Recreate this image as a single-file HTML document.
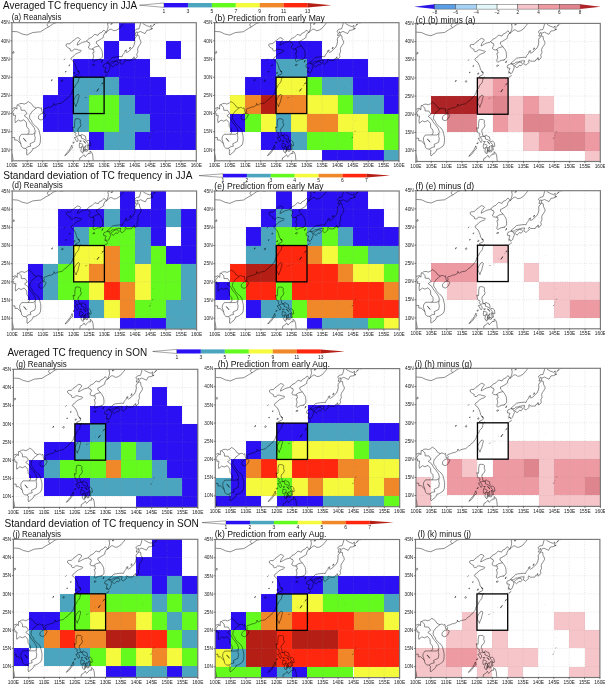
<!DOCTYPE html>
<html><head><meta charset="utf-8"><title>TC frequency</title>
<style>html,body{margin:0;padding:0;background:#fff}svg{display:block}text{font-family:"Liberation Sans",sans-serif;fill:#111}.t{font-size:11px}.s{font-size:8.2px}.k{font-size:4.8px;fill:#1a1a1a}.c{font-size:5px;fill:#222}</style></head><body>
<svg width="605" height="685" viewBox="0 0 605 685">
<rect width="605" height="685" fill="#fff"/>
<defs>
<clipPath id="cp"><rect x="0" y="0" width="184.4" height="138.1"/></clipPath>
<g id="map"><path clip-path="url(#cp)" d="M0 114.84L2.77 114.84L2.77 117.38L5.22 117.38L7.07 119.2L8.91 121.02L9.53 123.93L11.06 125.38L13.52 125.74L15.06 127.2L14.75 129.01L14.75 131.92L15.67 132.29L16.9 130.83L19.05 129.38L20.59 127.2L20.9 125.74L22.13 125.74L23.66 125.02L24.89 124.29L25.82 123.56L27.35 122.47L28.27 120.29L28.58 117.02L28.58 114.48L28.27 112.66L27.66 110.12L27.05 107.57L25.51 105.03L23.97 103.94L21.82 101.76L20.28 99.94L19.67 98.12L18.13 96.31L17.52 94.49L18.13 91.58L19.36 90.13L20.59 88.31L22.13 87.22L24.28 85.4L25.82 84.68L27.35 85.04L28.27 85.77L29.5 85.04L29.81 87.58L30.43 89.76L31.66 89.76L32.27 88.31L31.35 87.22L31.96 86.13L33.19 85.77L34.73 85.4L36.88 84.31L38.72 84.31L40.57 83.22L41.8 82.5L41.8 80.68L42.41 81.77L43.64 82.5L44.87 81.41L46.1 81.04L47.94 80.68L49.79 80.32L51.02 79.23L52.55 77.77L54.09 77.05L55.32 75.23L57.16 74.14L58.09 72.68L59.32 71.23L60.24 69.41L60.54 67.6L61.47 66.14L62.7 64.69L63.62 62.14L65.15 60.69L66.38 58.87L66.69 57.06L67.31 55.24L66.08 54.51L64.54 53.79L63 53.42L64.54 52.33L66.38 51.61L67.31 50.88L67 48.7L64.54 46.52L64.23 44.34L63.31 41.79L62.08 39.25L60.24 37.8L59.01 36.34L59.62 34.89L61.16 33.8L62.39 32.71L63.93 31.25L66.08 30.16L68.23 29.44L69.46 28.35L68.84 27.62L66.38 27.26L64.54 26.53L62.39 26.53L60.85 27.98L59.01 28.35L58.09 27.26L58.39 26.17L56.24 25.08L54.4 23.62L54.09 21.81L55.32 21.08L58.09 21.08L59.62 19.26L61.16 18.17L63.93 15.99L65.46 14.9L67.61 15.63L68.54 16.72L67 18.53L65.77 20.35L65.15 22.53L66.69 21.81L68.54 20.72L70.69 19.62L73.76 18.9L74.99 18.17L75.91 19.62L77.45 19.99L78.06 21.81L77.14 23.26L76.53 25.08L77.76 26.17L79.91 26.53L81.75 26.53L81.75 28.35L82.37 29.44L80.83 30.16L81.44 31.98L81.75 34.16L81.14 35.98L80.83 37.8L81.75 38.89L83.59 37.8L85.13 37.07L87.28 36.71L89.13 35.98L90.36 34.52L90.66 32.34L90.36 29.8L90.05 27.98L88.82 25.8L87.28 23.62L85.75 21.81L84.52 20.72L84.52 18.9L86.67 17.81L89.13 16.35L91.28 14.9L91.59 12.72L93.12 10.18L94.35 9.81L95.89 8.36L98.04 6.54L99.58 6.54L101.73 8L104.19 7.63L107.26 5.81L109.1 3.63L110.64 1.82L111.87 0M94.97 40.34L97.42 41.43L98.04 42.88L98.35 44.34L97.42 46.52L96.5 49.06L95.58 49.79L94.35 50.52L94.04 48.7L92.81 49.79L93.12 47.24L94.04 45.06L92.81 44.7L91.59 44.7L91.28 42.88L91.89 41.79L93.43 41.07L94.97 40.34M98.65 42.16L99.88 41.07L101.42 39.98L103.26 38.89L105.42 38.89L106.64 40.7L105.11 42.52L103.57 41.79L102.03 43.61L101.11 44.34L99.88 43.61L98.65 42.16M94.97 39.98L96.5 38.52L98.65 36.71L100.5 34.89L102.34 34.52L105.11 34.16L108.18 33.8L110.03 34.16L110.95 31.98L112.79 29.8L113.1 27.98L114.64 27.26L114.02 29.07L114.94 29.8L117.4 28.35L119.25 26.17L121.09 24.71L122.32 21.81L122.93 18.9L122.63 16.35L123.86 14.17L125.7 12.72L127.24 13.08L127.54 15.99L128.77 18.17L129.08 19.99L127.85 22.17L126.31 24.35L125.7 26.17L126.01 29.07L124.78 31.62L125.39 33.8L124.16 35.62L122.63 36.71L122.32 34.89L122.01 34.16L121.7 35.62L120.17 35.98L119.25 37.8L117.4 37.8L114.64 37.8L113.41 36.34L112.48 37.8L113.41 38.89L111.56 40.34L110.03 41.79L107.87 40.34L108.18 38.89L108.8 37.43L106.64 37.43L104.49 37.8L102.34 38.52L99.88 38.89L98.35 40.34L96.2 40.34L94.97 39.98M128.77 0L127.85 3.63L126.93 6.18L124.16 6.54L122.32 8.72L123.86 10.18L122.93 12.72L124.16 12.72L126.01 11.63L124.47 9.09L126.01 9.81L128.47 8.72L130.62 9.81L133.08 10.9L134.92 7.63L137.69 7.27L140.76 5.81L139.22 6.18L139.22 2.54L137.69 4L134.61 2.91L131.85 1.45L130.31 0M141.37 2.18L143.22 1.09L142.3 2.18L140.14 4M144.45 0.36L146.29 0M117.4 26.17L118.32 24.35L118.63 25.44L117.4 26.17M89.74 39.61L90.66 37.43L90.05 38.89L89.74 39.61M80.52 42.52L81.75 41.61L82.83 41.98L81.75 42.88L80.52 42.52M87.9 37.25L88.36 36.34M84.98 68.69L86.05 67.23L86.98 65.96L85.75 66.87L84.98 68.69M89.74 61.05L91.28 59.96L90.36 61.24L89.74 61.05M93.43 53.42L94.2 53.06L93.74 53.79L93.43 53.42M94.97 53.06L95.43 51.61M88.82 62.87L89.13 62.33M74.07 75.05L74.68 74.32M72.84 75.23L73.45 74.86M77.76 73.59L78.22 73.23M82.21 67.78L82.52 67.96M64.54 72.68L66.38 71.59L67.31 72.68L67 74.5L66.38 76.32L65.77 79.23L64.54 81.77L63.93 83.95L63.31 82.13L62.08 80.32L61.77 78.14L62.7 75.59L63.93 73.77L64.54 72.68M26.74 93.4L28.27 91.58L29.81 90.86L32.58 90.49L33.81 91.95L32.27 95.22L30.73 96.67L29.2 97.4L26.74 96.31L26.43 94.49L26.74 93.4M67.61 54.51L68.54 53.79L67.92 54.33M65.46 48.15L67.31 49.06L66.38 48.88L65.46 48.15M63.31 96.31L65.15 95.94L67.61 96.31L68.54 97.4L68.23 100.3L69.15 101.76L68.23 104.3L66.38 105.76L65.77 107.94L66.69 110.12L66.69 111.93L68.23 113.02L70.07 111.57L71.61 112.66L73.45 113.39L74.07 116.29L73.76 117.75L71.92 116.29L69.46 115.57L69.46 113.02L66.69 113.02L64.54 113.75L63.31 111.93L64.23 110.48L63.31 109.75L62.39 109.75L61.77 109.03L61.16 106.12L60.85 104.3L62.39 105.03L62.7 103.21L62.7 99.94L63.31 96.31M62.39 114.84L64.54 114.48L66.08 115.93L66.08 117.75L65.15 119.2L63.93 117.38L62.39 114.84M52.86 133.01L55.01 130.1L56.86 127.92L58.39 125.74L59.93 122.47L60.54 125.38L58.39 127.2L56.55 130.1L54.09 132.29L52.86 133.01M60.85 119.93L62.39 119.2L61.47 120.66L60.85 119.93M74.68 118.11L76.83 117.75L78.37 119.2L78.98 122.84L77.45 123.2L76.53 121.02L74.99 119.57L74.68 118.11M74.99 122.11L76.53 122.47L77.14 124.65L77.45 126.47L76.22 126.83L75.91 124.29L74.99 122.11M67.61 120.29L70.38 121.38L71.3 122.11L70.07 123.93L67.92 125.38L67.31 123.56L67.61 120.29M70.38 123.93L72.22 124.29L71.3 127.56L70.99 130.47L69.46 129.38L68.84 127.56L70.38 123.93M71.92 125.38L73.76 122.84L73.76 125.02L72.53 127.56L71.92 129.01L71.92 125.38M73.15 126.83L75.3 126.83L75.6 128.29L73.76 128.65L73.15 126.83M71.3 118.11L73.15 119.2L73.76 120.66L72.22 119.2L71.3 118.11M67.61 118.11L69.46 118.11L68.54 119.2L67.61 118.11M67.61 138.1L67.92 135.19L70.07 134.1L71.92 131.92L73.15 134.1L74.68 132.65L76.22 130.83L78.37 130.83L78.06 128.29L79.91 129.74L80.83 132.65L81.14 136.28L81.44 138.1M0 138.1L1.23 137.37L0.61 133.01L0 130.83M137.22 115.39L138.15 114.11M140.45 108.66L140.76 108.12M140.14 109.21L140.3 108.84M138.91 112.3L139.07 111.93M140.61 97.76L140.76 97.58M129.54 65.23L129.69 65.05M122.17 43.25L122.32 43.07M121.09 37.43L121.24 37.25M0 8.72L5.53 9.09L10.14 11.27L15.06 12.36L20.9 9.81L28.58 9.09L33.81 5.81L36.57 4.36L35.04 2.18L36.57 0M36.57 4.36L41.8 0.73L44.56 0M47.64 0L51.02 0M74.99 18.17L76.83 15.99L79.91 14.54L82.67 11.63L86.05 12.72L86.98 10.9L90.05 9.45L91.89 7.27L93.12 8.72L94.35 9.81M94.35 9.81L95.89 5.81L96.2 3.63L95.58 0.73L98.04 0M80.21 26.35L82.98 24.35L86.98 23.26M24.43 85.4L21.51 83.95L20.28 81.77L18.13 79.95L16.29 78.86L14.75 80.32L12.29 81.41L10.14 80.68L7.68 81.04L6.45 82.13M6.45 82.13L5.22 82.13L4.92 86.49L3.38 84.68L0.61 85.77L0 85.4M3.69 85.4L1.84 87.58L0.31 89.76L1.54 90.49L1.54 92.67L3.69 92.67L3.07 97.03L3.38 99.94L6.45 97.4L8.91 98.49L11.99 97.03L14.44 99.94L14.75 103.94L16.9 106.48L17.21 109.39L15.98 111.57M6.45 82.13L8.91 84.68L9.22 87.58L12.91 87.58L15.06 90.86L12.29 93.04L15.67 95.58L18.13 99.94L19.98 101.76L22.44 105.39L23.36 108.3L23.05 110.12M15.98 111.57L18.44 111.57L20.9 111.57L23.05 110.12L22.74 113.02L23.36 114.84L22.74 118.84L19.67 120.29L18.13 121.02L18.75 123.56L16.29 123.93L13.52 125.74M15.98 111.57L12.29 111.57L9.53 111.57L7.68 114.11L7.38 116.66L8.91 121.02M11.37 115.57L13.22 117.75L14.14 118.84L12.91 116.66L11.37 115.57M0 85.4L0 85.77M49.17 58.15L50.4 57.06L51.02 58.15L49.79 58.87L49.17 58.15M39.34 58.15L40.26 56.69L39.95 58.15L39.34 58.15M61.47 50.52L62.7 49.43L63 50.52L62.08 50.88L61.47 50.52M56.86 42.88L57.78 41.98L57.47 43.25L56.86 42.88M53.17 49.06L54.4 48.7L53.78 49.43L53.17 49.06M0 30.16L1.84 28.71L2.15 30.16L0.61 30.71L0 30.16M51.94 37.43L53.17 35.98M98.65 1.45L100.5 0L100.19 1.45L98.65 1.45" fill="none" stroke="#000" stroke-width="0.45" stroke-linejoin="round"/></g>
<path id="grid" d="M15.37 0V138.1M30.73 0V138.1M46.1 0V138.1M61.47 0V138.1M76.83 0V138.1M92.2 0V138.1M107.57 0V138.1M122.93 0V138.1M138.3 0V138.1M153.67 0V138.1M169.03 0V138.1M0 127.2H184.4M0 109.03H184.4M0 90.86H184.4M0 72.68H184.4M0 54.51H184.4M0 36.34H184.4M0 18.17H184.4" fill="none" stroke="#9a9a9a" stroke-opacity="0.55" stroke-width="0.5" stroke-dasharray="0.8 1.6"/>
<g id="frame"><rect x="0" y="0" width="184.4" height="138.1" fill="none" stroke="#777" stroke-width="1.15"/><path d="M0 138.1v1.6M15.37 138.1v1.6M30.73 138.1v1.6M46.1 138.1v1.6M61.47 138.1v1.6M76.83 138.1v1.6M92.2 138.1v1.6M107.57 138.1v1.6M122.93 138.1v1.6M138.3 138.1v1.6M153.67 138.1v1.6M169.03 138.1v1.6M184.4 138.1v1.6M0 127.2h-1.6M0 109.03h-1.6M0 90.86h-1.6M0 72.68h-1.6M0 54.51h-1.6M0 36.34h-1.6M0 18.17h-1.6M0 0h-1.6" stroke="#333" stroke-width="0.6" fill="none"/><rect x="61.47" y="54.51" width="30.73" height="36.34" fill="none" stroke="#000" stroke-width="1.3"/></g>
<g id="labs"><text class="k" x="0" y="144.5" text-anchor="middle">100E</text><text class="k" x="15.37" y="144.5" text-anchor="middle">105E</text><text class="k" x="30.73" y="144.5" text-anchor="middle">110E</text><text class="k" x="46.1" y="144.5" text-anchor="middle">115E</text><text class="k" x="61.47" y="144.5" text-anchor="middle">120E</text><text class="k" x="76.83" y="144.5" text-anchor="middle">125E</text><text class="k" x="92.2" y="144.5" text-anchor="middle">130E</text><text class="k" x="107.57" y="144.5" text-anchor="middle">135E</text><text class="k" x="122.93" y="144.5" text-anchor="middle">140E</text><text class="k" x="138.3" y="144.5" text-anchor="middle">145E</text><text class="k" x="153.67" y="144.5" text-anchor="middle">150E</text><text class="k" x="169.03" y="144.5" text-anchor="middle">155E</text><text class="k" x="184.4" y="144.5" text-anchor="middle">160E</text><text class="k" x="-2.2" y="128.9" text-anchor="end">10N</text><text class="k" x="-2.2" y="110.73" text-anchor="end">15N</text><text class="k" x="-2.2" y="92.56" text-anchor="end">20N</text><text class="k" x="-2.2" y="74.38" text-anchor="end">25N</text><text class="k" x="-2.2" y="56.21" text-anchor="end">30N</text><text class="k" x="-2.2" y="38.04" text-anchor="end">35N</text><text class="k" x="-2.2" y="19.87" text-anchor="end">40N</text><text class="k" x="-2.2" y="1.7" text-anchor="end">45N</text></g>
</defs>
<g transform="translate(11.9 22.7)">
<g shape-rendering="crispEdges"><rect x="107.57" y="0" width="15.37" height="18.17" fill="#2a10f2"/><rect x="92.2" y="18.17" width="15.37" height="18.17" fill="#2a10f2"/><rect x="153.67" y="18.17" width="15.37" height="18.17" fill="#2a10f2"/><rect x="61.47" y="36.34" width="76.83" height="18.17" fill="#2a10f2"/><rect x="46.1" y="54.51" width="15.37" height="18.17" fill="#2a10f2"/><rect x="61.47" y="54.51" width="46.1" height="18.17" fill="#4ba5be"/><rect x="107.57" y="54.51" width="46.1" height="18.17" fill="#2a10f2"/><rect x="30.73" y="72.68" width="30.73" height="18.17" fill="#2a10f2"/><rect x="61.47" y="72.68" width="15.37" height="18.17" fill="#4ba5be"/><rect x="76.83" y="72.68" width="30.73" height="18.17" fill="#64fa1e"/><rect x="107.57" y="72.68" width="15.37" height="18.17" fill="#4ba5be"/><rect x="122.93" y="72.68" width="61.47" height="18.17" fill="#2a10f2"/><rect x="30.73" y="90.86" width="30.73" height="18.17" fill="#2a10f2"/><rect x="61.47" y="90.86" width="15.37" height="18.17" fill="#4ba5be"/><rect x="76.83" y="90.86" width="30.73" height="18.17" fill="#64fa1e"/><rect x="107.57" y="90.86" width="30.73" height="18.17" fill="#4ba5be"/><rect x="138.3" y="90.86" width="46.1" height="18.17" fill="#2a10f2"/><rect x="76.83" y="109.03" width="15.37" height="18.17" fill="#2a10f2"/><rect x="92.2" y="109.03" width="30.73" height="18.17" fill="#4ba5be"/><rect x="122.93" y="109.03" width="61.47" height="18.17" fill="#2a10f2"/></g>
<use href="#grid"/><use href="#map"/><use href="#frame"/><use href="#labs"/>
</g>
<text class="s" x="11.7" y="19.9" textLength="49.6" lengthAdjust="spacingAndGlyphs">(a) Reanalysis</text>
<g transform="translate(214.6 22.7)">
<g shape-rendering="crispEdges"><rect x="61.47" y="18.17" width="46.1" height="18.17" fill="#2a10f2"/><rect x="46.1" y="36.34" width="15.37" height="18.17" fill="#2a10f2"/><rect x="61.47" y="36.34" width="30.73" height="18.17" fill="#4ba5be"/><rect x="92.2" y="36.34" width="61.47" height="18.17" fill="#2a10f2"/><rect x="30.73" y="54.51" width="30.73" height="18.17" fill="#2a10f2"/><rect x="61.47" y="54.51" width="30.73" height="18.17" fill="#f5fa3c"/><rect x="92.2" y="54.51" width="15.37" height="18.17" fill="#64fa1e"/><rect x="107.57" y="54.51" width="30.73" height="18.17" fill="#4ba5be"/><rect x="138.3" y="54.51" width="46.1" height="18.17" fill="#2a10f2"/><rect x="15.37" y="72.68" width="15.37" height="18.17" fill="#f5fa3c"/><rect x="30.73" y="72.68" width="15.37" height="18.17" fill="#f08728"/><rect x="46.1" y="72.68" width="15.37" height="18.17" fill="#b41e14"/><rect x="61.47" y="72.68" width="30.73" height="18.17" fill="#f08728"/><rect x="92.2" y="72.68" width="30.73" height="18.17" fill="#f5fa3c"/><rect x="122.93" y="72.68" width="15.37" height="18.17" fill="#64fa1e"/><rect x="138.3" y="72.68" width="30.73" height="18.17" fill="#4ba5be"/><rect x="169.03" y="72.68" width="15.37" height="18.17" fill="#2a10f2"/><rect x="15.37" y="90.86" width="15.37" height="18.17" fill="#2a10f2"/><rect x="30.73" y="90.86" width="15.37" height="18.17" fill="#64fa1e"/><rect x="46.1" y="90.86" width="15.37" height="18.17" fill="#f5fa3c"/><rect x="61.47" y="90.86" width="15.37" height="18.17" fill="#4ba5be"/><rect x="76.83" y="90.86" width="15.37" height="18.17" fill="#f5fa3c"/><rect x="92.2" y="90.86" width="30.73" height="18.17" fill="#f08728"/><rect x="122.93" y="90.86" width="30.73" height="18.17" fill="#f5fa3c"/><rect x="153.67" y="90.86" width="30.73" height="18.17" fill="#64fa1e"/><rect x="46.1" y="109.03" width="30.73" height="18.17" fill="#2a10f2"/><rect x="76.83" y="109.03" width="15.37" height="18.17" fill="#4ba5be"/><rect x="92.2" y="109.03" width="46.1" height="18.17" fill="#64fa1e"/><rect x="138.3" y="109.03" width="30.73" height="18.17" fill="#f5fa3c"/><rect x="169.03" y="109.03" width="15.37" height="18.17" fill="#64fa1e"/><rect x="107.57" y="127.2" width="61.47" height="10.9" fill="#2a10f2"/><rect x="169.03" y="127.2" width="15.37" height="10.9" fill="#4ba5be"/></g>
<use href="#grid"/><use href="#map"/><use href="#frame"/><use href="#labs"/>
</g>
<text class="s" x="214.7" y="20.9" textLength="110.2" lengthAdjust="spacingAndGlyphs">(b) Prediction from early May</text>
<g transform="translate(415.9 23.4)">
<g shape-rendering="crispEdges"><rect x="61.47" y="54.51" width="15.37" height="18.17" fill="#f6c5c9"/><rect x="76.83" y="54.51" width="15.37" height="18.17" fill="#ee9aa3"/><rect x="15.37" y="72.68" width="46.1" height="18.17" fill="#ad2326"/><rect x="61.47" y="72.68" width="15.37" height="18.17" fill="#ee9aa3"/><rect x="76.83" y="72.68" width="15.37" height="18.17" fill="#df858d"/><rect x="92.2" y="72.68" width="15.37" height="18.17" fill="#f6c5c9"/><rect x="107.57" y="72.68" width="15.37" height="18.17" fill="#ee9aa3"/><rect x="122.93" y="72.68" width="15.37" height="18.17" fill="#f6c5c9"/><rect x="30.73" y="90.86" width="30.73" height="18.17" fill="#df858d"/><rect x="76.83" y="90.86" width="15.37" height="18.17" fill="#ee9aa3"/><rect x="92.2" y="90.86" width="15.37" height="18.17" fill="#f6c5c9"/><rect x="107.57" y="90.86" width="30.73" height="18.17" fill="#df858d"/><rect x="138.3" y="90.86" width="30.73" height="18.17" fill="#ee9aa3"/><rect x="169.03" y="90.86" width="15.37" height="18.17" fill="#f6c5c9"/><rect x="107.57" y="109.03" width="15.37" height="18.17" fill="#f6c5c9"/><rect x="122.93" y="109.03" width="15.37" height="18.17" fill="#ee9aa3"/><rect x="138.3" y="109.03" width="30.73" height="18.17" fill="#df858d"/><rect x="169.03" y="109.03" width="15.37" height="18.17" fill="#ee9aa3"/><rect x="169.03" y="127.2" width="15.37" height="10.9" fill="#f6c5c9"/></g>
<use href="#grid"/><use href="#map"/><use href="#frame"/><use href="#labs"/>
</g>
<text class="s" x="415.8" y="22.9" textLength="59.6" lengthAdjust="spacingAndGlyphs">(c) (b) minus (a)</text>
<g transform="translate(12.2 191)">
<g shape-rendering="crispEdges"><rect x="107.57" y="0" width="15.37" height="18.17" fill="#2a10f2"/><rect x="138.3" y="0" width="15.37" height="18.17" fill="#2a10f2"/><rect x="46.1" y="18.17" width="46.1" height="18.17" fill="#2a10f2"/><rect x="92.2" y="18.17" width="15.37" height="18.17" fill="#4ba5be"/><rect x="107.57" y="18.17" width="46.1" height="18.17" fill="#2a10f2"/><rect x="153.67" y="18.17" width="15.37" height="18.17" fill="#4ba5be"/><rect x="169.03" y="18.17" width="15.37" height="18.17" fill="#2a10f2"/><rect x="46.1" y="36.34" width="15.37" height="18.17" fill="#2a10f2"/><rect x="61.47" y="36.34" width="15.37" height="18.17" fill="#4ba5be"/><rect x="76.83" y="36.34" width="46.1" height="18.17" fill="#64fa1e"/><rect x="122.93" y="36.34" width="15.37" height="18.17" fill="#4ba5be"/><rect x="138.3" y="36.34" width="15.37" height="18.17" fill="#2a10f2"/><rect x="169.03" y="36.34" width="15.37" height="18.17" fill="#2a10f2"/><rect x="46.1" y="54.51" width="15.37" height="18.17" fill="#4ba5be"/><rect x="61.47" y="54.51" width="30.73" height="18.17" fill="#f5fa3c"/><rect x="92.2" y="54.51" width="15.37" height="18.17" fill="#f08728"/><rect x="107.57" y="54.51" width="15.37" height="18.17" fill="#64fa1e"/><rect x="122.93" y="54.51" width="15.37" height="18.17" fill="#4ba5be"/><rect x="138.3" y="54.51" width="15.37" height="18.17" fill="#64fa1e"/><rect x="153.67" y="54.51" width="30.73" height="18.17" fill="#2a10f2"/><rect x="15.37" y="72.68" width="15.37" height="18.17" fill="#2a10f2"/><rect x="30.73" y="72.68" width="15.37" height="18.17" fill="#4ba5be"/><rect x="46.1" y="72.68" width="15.37" height="18.17" fill="#64fa1e"/><rect x="61.47" y="72.68" width="15.37" height="18.17" fill="#f5fa3c"/><rect x="76.83" y="72.68" width="30.73" height="18.17" fill="#f08728"/><rect x="107.57" y="72.68" width="15.37" height="18.17" fill="#64fa1e"/><rect x="122.93" y="72.68" width="15.37" height="18.17" fill="#f5fa3c"/><rect x="138.3" y="72.68" width="30.73" height="18.17" fill="#64fa1e"/><rect x="169.03" y="72.68" width="15.37" height="18.17" fill="#4ba5be"/><rect x="15.37" y="90.86" width="15.37" height="18.17" fill="#2a10f2"/><rect x="30.73" y="90.86" width="15.37" height="18.17" fill="#4ba5be"/><rect x="46.1" y="90.86" width="30.73" height="18.17" fill="#64fa1e"/><rect x="76.83" y="90.86" width="15.37" height="18.17" fill="#f5fa3c"/><rect x="92.2" y="90.86" width="15.37" height="18.17" fill="#ff280f"/><rect x="107.57" y="90.86" width="15.37" height="18.17" fill="#f08728"/><rect x="122.93" y="90.86" width="15.37" height="18.17" fill="#f5fa3c"/><rect x="138.3" y="90.86" width="30.73" height="18.17" fill="#64fa1e"/><rect x="169.03" y="90.86" width="15.37" height="18.17" fill="#4ba5be"/><rect x="61.47" y="109.03" width="15.37" height="18.17" fill="#2a10f2"/><rect x="76.83" y="109.03" width="15.37" height="18.17" fill="#4ba5be"/><rect x="92.2" y="109.03" width="15.37" height="18.17" fill="#f5fa3c"/><rect x="107.57" y="109.03" width="15.37" height="18.17" fill="#f08728"/><rect x="122.93" y="109.03" width="30.73" height="18.17" fill="#64fa1e"/><rect x="153.67" y="109.03" width="30.73" height="18.17" fill="#4ba5be"/><rect x="107.57" y="127.2" width="46.1" height="10.9" fill="#2a10f2"/><rect x="153.67" y="127.2" width="30.73" height="10.9" fill="#4ba5be"/></g>
<use href="#grid"/><use href="#map"/><use href="#frame"/><use href="#labs"/>
</g>
<text class="s" x="11.9" y="188.3" textLength="50.9" lengthAdjust="spacingAndGlyphs">(d) Reanalysis</text>
<g transform="translate(214.8 191)">
<g shape-rendering="crispEdges"><rect x="61.47" y="0" width="15.37" height="18.17" fill="#2a10f2"/><rect x="92.2" y="0" width="61.47" height="18.17" fill="#2a10f2"/><rect x="46.1" y="18.17" width="15.37" height="18.17" fill="#2a10f2"/><rect x="61.47" y="18.17" width="15.37" height="18.17" fill="#4ba5be"/><rect x="76.83" y="18.17" width="92.2" height="18.17" fill="#2a10f2"/><rect x="30.73" y="36.34" width="15.37" height="18.17" fill="#2a10f2"/><rect x="46.1" y="36.34" width="15.37" height="18.17" fill="#4ba5be"/><rect x="61.47" y="36.34" width="30.73" height="18.17" fill="#64fa1e"/><rect x="92.2" y="36.34" width="15.37" height="18.17" fill="#4ba5be"/><rect x="107.57" y="36.34" width="15.37" height="18.17" fill="#64fa1e"/><rect x="122.93" y="36.34" width="15.37" height="18.17" fill="#4ba5be"/><rect x="138.3" y="36.34" width="46.1" height="18.17" fill="#2a10f2"/><rect x="30.73" y="54.51" width="30.73" height="18.17" fill="#4ba5be"/><rect x="61.47" y="54.51" width="30.73" height="18.17" fill="#ff280f"/><rect x="92.2" y="54.51" width="15.37" height="18.17" fill="#f08728"/><rect x="107.57" y="54.51" width="15.37" height="18.17" fill="#f5fa3c"/><rect x="122.93" y="54.51" width="30.73" height="18.17" fill="#64fa1e"/><rect x="153.67" y="54.51" width="30.73" height="18.17" fill="#4ba5be"/><rect x="15.37" y="72.68" width="15.37" height="18.17" fill="#ff280f"/><rect x="30.73" y="72.68" width="30.73" height="18.17" fill="#b41e14"/><rect x="61.47" y="72.68" width="61.47" height="18.17" fill="#ff280f"/><rect x="122.93" y="72.68" width="15.37" height="18.17" fill="#f08728"/><rect x="138.3" y="72.68" width="30.73" height="18.17" fill="#f5fa3c"/><rect x="169.03" y="72.68" width="15.37" height="18.17" fill="#64fa1e"/><rect x="0" y="90.86" width="15.37" height="18.17" fill="#2a10f2"/><rect x="15.37" y="90.86" width="15.37" height="18.17" fill="#64fa1e"/><rect x="30.73" y="90.86" width="30.73" height="18.17" fill="#ff280f"/><rect x="61.47" y="90.86" width="15.37" height="18.17" fill="#64fa1e"/><rect x="76.83" y="90.86" width="92.2" height="18.17" fill="#ff280f"/><rect x="169.03" y="90.86" width="15.37" height="18.17" fill="#f08728"/><rect x="30.73" y="109.03" width="15.37" height="18.17" fill="#2a10f2"/><rect x="46.1" y="109.03" width="30.73" height="18.17" fill="#4ba5be"/><rect x="76.83" y="109.03" width="15.37" height="18.17" fill="#64fa1e"/><rect x="92.2" y="109.03" width="46.1" height="18.17" fill="#f08728"/><rect x="138.3" y="109.03" width="46.1" height="18.17" fill="#ff280f"/><rect x="92.2" y="127.2" width="15.37" height="10.9" fill="#2a10f2"/><rect x="107.57" y="127.2" width="46.1" height="10.9" fill="#4ba5be"/><rect x="153.67" y="127.2" width="15.37" height="10.9" fill="#64fa1e"/><rect x="169.03" y="127.2" width="15.37" height="10.9" fill="#f5fa3c"/></g>
<use href="#grid"/><use href="#map"/><use href="#frame"/><use href="#labs"/>
</g>
<text class="s" x="214.3" y="189.1" textLength="109.2" lengthAdjust="spacingAndGlyphs">(e) Prediction from early May</text>
<g transform="translate(416 190.7)">
<g shape-rendering="crispEdges"><rect x="76.83" y="54.51" width="15.37" height="18.17" fill="#f6c5c9"/><rect x="15.37" y="72.68" width="46.1" height="18.17" fill="#ee9aa3"/><rect x="107.57" y="72.68" width="15.37" height="18.17" fill="#f6c5c9"/><rect x="30.73" y="90.86" width="30.73" height="18.17" fill="#f6c5c9"/><rect x="122.93" y="90.86" width="61.47" height="18.17" fill="#f6c5c9"/><rect x="138.3" y="109.03" width="15.37" height="18.17" fill="#f6c5c9"/><rect x="153.67" y="109.03" width="30.73" height="18.17" fill="#ee9aa3"/></g>
<use href="#grid"/><use href="#map"/><use href="#frame"/><use href="#labs"/>
</g>
<text class="s" x="415.4" y="189.2" textLength="58.6" lengthAdjust="spacingAndGlyphs">(f) (e) minus (d)</text>
<g transform="translate(13.4 369.3)">
<g shape-rendering="crispEdges"><rect x="138.3" y="18.17" width="15.37" height="18.17" fill="#2a10f2"/><rect x="76.83" y="36.34" width="92.2" height="18.17" fill="#2a10f2"/><rect x="61.47" y="54.51" width="15.37" height="18.17" fill="#2a10f2"/><rect x="76.83" y="54.51" width="15.37" height="18.17" fill="#4ba5be"/><rect x="92.2" y="54.51" width="92.2" height="18.17" fill="#2a10f2"/><rect x="30.73" y="72.68" width="30.73" height="18.17" fill="#2a10f2"/><rect x="61.47" y="72.68" width="15.37" height="18.17" fill="#4ba5be"/><rect x="76.83" y="72.68" width="15.37" height="18.17" fill="#64fa1e"/><rect x="92.2" y="72.68" width="15.37" height="18.17" fill="#4ba5be"/><rect x="107.57" y="72.68" width="15.37" height="18.17" fill="#64fa1e"/><rect x="122.93" y="72.68" width="15.37" height="18.17" fill="#4ba5be"/><rect x="138.3" y="72.68" width="46.1" height="18.17" fill="#2a10f2"/><rect x="15.37" y="90.86" width="15.37" height="18.17" fill="#2a10f2"/><rect x="30.73" y="90.86" width="15.37" height="18.17" fill="#4ba5be"/><rect x="46.1" y="90.86" width="46.1" height="18.17" fill="#64fa1e"/><rect x="92.2" y="90.86" width="15.37" height="18.17" fill="#f08728"/><rect x="107.57" y="90.86" width="30.73" height="18.17" fill="#64fa1e"/><rect x="138.3" y="90.86" width="15.37" height="18.17" fill="#4ba5be"/><rect x="153.67" y="90.86" width="30.73" height="18.17" fill="#2a10f2"/><rect x="30.73" y="109.03" width="46.1" height="18.17" fill="#2a10f2"/><rect x="76.83" y="109.03" width="92.2" height="18.17" fill="#4ba5be"/><rect x="169.03" y="109.03" width="15.37" height="18.17" fill="#2a10f2"/><rect x="122.93" y="127.2" width="61.47" height="10.9" fill="#2a10f2"/></g>
<use href="#grid"/><use href="#map"/><use href="#frame"/><use href="#labs"/>
</g>
<text class="s" x="15.9" y="366.8" textLength="50.9" lengthAdjust="spacingAndGlyphs">(g) Reanalysis</text>
<g transform="translate(215.3 368.6)">
<g shape-rendering="crispEdges"><rect x="92.2" y="36.34" width="61.47" height="18.17" fill="#2a10f2"/><rect x="61.47" y="54.51" width="30.73" height="18.17" fill="#2a10f2"/><rect x="92.2" y="54.51" width="61.47" height="18.17" fill="#4ba5be"/><rect x="153.67" y="54.51" width="30.73" height="18.17" fill="#2a10f2"/><rect x="30.73" y="72.68" width="15.37" height="18.17" fill="#2a10f2"/><rect x="46.1" y="72.68" width="15.37" height="18.17" fill="#4ba5be"/><rect x="61.47" y="72.68" width="15.37" height="18.17" fill="#64fa1e"/><rect x="76.83" y="72.68" width="61.47" height="18.17" fill="#f5fa3c"/><rect x="138.3" y="72.68" width="15.37" height="18.17" fill="#64fa1e"/><rect x="153.67" y="72.68" width="30.73" height="18.17" fill="#4ba5be"/><rect x="15.37" y="90.86" width="15.37" height="18.17" fill="#2a10f2"/><rect x="30.73" y="90.86" width="15.37" height="18.17" fill="#f08728"/><rect x="46.1" y="90.86" width="15.37" height="18.17" fill="#ff280f"/><rect x="61.47" y="90.86" width="15.37" height="18.17" fill="#f5fa3c"/><rect x="76.83" y="90.86" width="46.1" height="18.17" fill="#ff280f"/><rect x="122.93" y="90.86" width="30.73" height="18.17" fill="#f08728"/><rect x="153.67" y="90.86" width="30.73" height="18.17" fill="#f5fa3c"/><rect x="0" y="109.03" width="15.37" height="18.17" fill="#4ba5be"/><rect x="15.37" y="109.03" width="15.37" height="18.17" fill="#2a10f2"/><rect x="30.73" y="109.03" width="30.73" height="18.17" fill="#f5fa3c"/><rect x="61.47" y="109.03" width="15.37" height="18.17" fill="#64fa1e"/><rect x="76.83" y="109.03" width="15.37" height="18.17" fill="#f5fa3c"/><rect x="92.2" y="109.03" width="15.37" height="18.17" fill="#f08728"/><rect x="107.57" y="109.03" width="30.73" height="18.17" fill="#f5fa3c"/><rect x="138.3" y="109.03" width="15.37" height="18.17" fill="#f08728"/><rect x="153.67" y="109.03" width="15.37" height="18.17" fill="#f5fa3c"/><rect x="169.03" y="109.03" width="15.37" height="18.17" fill="#f08728"/><rect x="0" y="127.2" width="46.1" height="10.9" fill="#2a10f2"/><rect x="61.47" y="127.2" width="46.1" height="10.9" fill="#2a10f2"/><rect x="107.57" y="127.2" width="61.47" height="10.9" fill="#4ba5be"/><rect x="169.03" y="127.2" width="15.37" height="10.9" fill="#64fa1e"/></g>
<use href="#grid"/><use href="#map"/><use href="#frame"/><use href="#labs"/>
</g>
<text class="s" x="217.7" y="366.8" textLength="112.3" lengthAdjust="spacingAndGlyphs">(h) Prediction from early Aug.</text>
<g transform="translate(416 368.3)">
<g shape-rendering="crispEdges"><rect x="92.2" y="72.68" width="92.2" height="18.17" fill="#f6c5c9"/><rect x="30.73" y="90.86" width="15.37" height="18.17" fill="#ee9aa3"/><rect x="46.1" y="90.86" width="15.37" height="18.17" fill="#f6c5c9"/><rect x="76.83" y="90.86" width="30.73" height="18.17" fill="#ee9aa3"/><rect x="107.57" y="90.86" width="15.37" height="18.17" fill="#df858d"/><rect x="122.93" y="90.86" width="15.37" height="18.17" fill="#f6c5c9"/><rect x="138.3" y="90.86" width="46.1" height="18.17" fill="#ee9aa3"/><rect x="0" y="109.03" width="15.37" height="18.17" fill="#f6c5c9"/><rect x="30.73" y="109.03" width="92.2" height="18.17" fill="#ee9aa3"/><rect x="122.93" y="109.03" width="15.37" height="18.17" fill="#f6c5c9"/><rect x="138.3" y="109.03" width="30.73" height="18.17" fill="#ee9aa3"/><rect x="169.03" y="109.03" width="15.37" height="18.17" fill="#df858d"/><rect x="0" y="127.2" width="15.37" height="10.9" fill="#f6c5c9"/><rect x="122.93" y="127.2" width="61.47" height="10.9" fill="#f6c5c9"/></g>
<use href="#grid"/><use href="#map"/><use href="#frame"/><use href="#labs"/>
</g>
<text class="s" x="414.7" y="366.7" textLength="57.4" lengthAdjust="spacingAndGlyphs">(i) (h) minus (g)</text>
<g transform="translate(13.4 539.3)">
<g shape-rendering="crispEdges"><rect x="138.3" y="0" width="30.73" height="18.17" fill="#2a10f2"/><rect x="122.93" y="18.17" width="46.1" height="18.17" fill="#2a10f2"/><rect x="61.47" y="36.34" width="15.37" height="18.17" fill="#2a10f2"/><rect x="76.83" y="36.34" width="61.47" height="18.17" fill="#4ba5be"/><rect x="138.3" y="36.34" width="15.37" height="18.17" fill="#2a10f2"/><rect x="153.67" y="36.34" width="15.37" height="18.17" fill="#4ba5be"/><rect x="169.03" y="36.34" width="15.37" height="18.17" fill="#2a10f2"/><rect x="46.1" y="54.51" width="15.37" height="18.17" fill="#4ba5be"/><rect x="61.47" y="54.51" width="15.37" height="18.17" fill="#64fa1e"/><rect x="76.83" y="54.51" width="15.37" height="18.17" fill="#f08728"/><rect x="92.2" y="54.51" width="46.1" height="18.17" fill="#64fa1e"/><rect x="138.3" y="54.51" width="15.37" height="18.17" fill="#4ba5be"/><rect x="153.67" y="54.51" width="15.37" height="18.17" fill="#64fa1e"/><rect x="169.03" y="54.51" width="15.37" height="18.17" fill="#4ba5be"/><rect x="15.37" y="72.68" width="30.73" height="18.17" fill="#2a10f2"/><rect x="46.1" y="72.68" width="30.73" height="18.17" fill="#64fa1e"/><rect x="76.83" y="72.68" width="15.37" height="18.17" fill="#f5fa3c"/><rect x="92.2" y="72.68" width="30.73" height="18.17" fill="#f08728"/><rect x="122.93" y="72.68" width="15.37" height="18.17" fill="#f5fa3c"/><rect x="138.3" y="72.68" width="15.37" height="18.17" fill="#64fa1e"/><rect x="153.67" y="72.68" width="15.37" height="18.17" fill="#4ba5be"/><rect x="169.03" y="72.68" width="15.37" height="18.17" fill="#64fa1e"/><rect x="15.37" y="90.86" width="15.37" height="18.17" fill="#4ba5be"/><rect x="30.73" y="90.86" width="15.37" height="18.17" fill="#f08728"/><rect x="46.1" y="90.86" width="15.37" height="18.17" fill="#ff280f"/><rect x="61.47" y="90.86" width="30.73" height="18.17" fill="#f08728"/><rect x="92.2" y="90.86" width="30.73" height="18.17" fill="#b41e14"/><rect x="122.93" y="90.86" width="30.73" height="18.17" fill="#ff280f"/><rect x="153.67" y="90.86" width="15.37" height="18.17" fill="#64fa1e"/><rect x="169.03" y="90.86" width="15.37" height="18.17" fill="#4ba5be"/><rect x="0" y="109.03" width="15.37" height="18.17" fill="#2a10f2"/><rect x="30.73" y="109.03" width="46.1" height="18.17" fill="#4ba5be"/><rect x="76.83" y="109.03" width="15.37" height="18.17" fill="#64fa1e"/><rect x="92.2" y="109.03" width="15.37" height="18.17" fill="#f5fa3c"/><rect x="107.57" y="109.03" width="15.37" height="18.17" fill="#64fa1e"/><rect x="122.93" y="109.03" width="15.37" height="18.17" fill="#f5fa3c"/><rect x="138.3" y="109.03" width="15.37" height="18.17" fill="#f08728"/><rect x="153.67" y="109.03" width="15.37" height="18.17" fill="#f5fa3c"/><rect x="169.03" y="109.03" width="15.37" height="18.17" fill="#64fa1e"/><rect x="92.2" y="127.2" width="30.73" height="10.9" fill="#2a10f2"/><rect x="122.93" y="127.2" width="30.73" height="10.9" fill="#4ba5be"/><rect x="153.67" y="127.2" width="15.37" height="10.9" fill="#2a10f2"/><rect x="169.03" y="127.2" width="15.37" height="10.9" fill="#4ba5be"/></g>
<use href="#grid"/><use href="#map"/><use href="#frame"/><use href="#labs"/>
</g>
<text class="s" x="12.8" y="536.7" textLength="48.3" lengthAdjust="spacingAndGlyphs">(j) Reanalysis</text>
<g transform="translate(215.2 539.5)">
<g shape-rendering="crispEdges"><rect x="61.47" y="36.34" width="46.1" height="18.17" fill="#2a10f2"/><rect x="107.57" y="36.34" width="15.37" height="18.17" fill="#4ba5be"/><rect x="122.93" y="36.34" width="61.47" height="18.17" fill="#2a10f2"/><rect x="46.1" y="54.51" width="15.37" height="18.17" fill="#2a10f2"/><rect x="61.47" y="54.51" width="15.37" height="18.17" fill="#4ba5be"/><rect x="76.83" y="54.51" width="30.73" height="18.17" fill="#f5fa3c"/><rect x="107.57" y="54.51" width="61.47" height="18.17" fill="#64fa1e"/><rect x="169.03" y="54.51" width="15.37" height="18.17" fill="#4ba5be"/><rect x="15.37" y="72.68" width="15.37" height="18.17" fill="#2a10f2"/><rect x="30.73" y="72.68" width="15.37" height="18.17" fill="#64fa1e"/><rect x="46.1" y="72.68" width="30.73" height="18.17" fill="#f08728"/><rect x="76.83" y="72.68" width="61.47" height="18.17" fill="#ff280f"/><rect x="138.3" y="72.68" width="30.73" height="18.17" fill="#f08728"/><rect x="169.03" y="72.68" width="15.37" height="18.17" fill="#f5fa3c"/><rect x="0" y="90.86" width="15.37" height="18.17" fill="#2a10f2"/><rect x="15.37" y="90.86" width="15.37" height="18.17" fill="#64fa1e"/><rect x="30.73" y="90.86" width="30.73" height="18.17" fill="#b41e14"/><rect x="61.47" y="90.86" width="15.37" height="18.17" fill="#ff280f"/><rect x="76.83" y="90.86" width="46.1" height="18.17" fill="#b41e14"/><rect x="122.93" y="90.86" width="61.47" height="18.17" fill="#ff280f"/><rect x="0" y="109.03" width="15.37" height="18.17" fill="#f5fa3c"/><rect x="15.37" y="109.03" width="15.37" height="18.17" fill="#4ba5be"/><rect x="30.73" y="109.03" width="30.73" height="18.17" fill="#b41e14"/><rect x="61.47" y="109.03" width="61.47" height="18.17" fill="#ff280f"/><rect x="122.93" y="109.03" width="15.37" height="18.17" fill="#f08728"/><rect x="138.3" y="109.03" width="46.1" height="18.17" fill="#ff280f"/><rect x="0" y="127.2" width="46.1" height="10.9" fill="#64fa1e"/><rect x="46.1" y="127.2" width="15.37" height="10.9" fill="#2a10f2"/><rect x="61.47" y="127.2" width="15.37" height="10.9" fill="#4ba5be"/><rect x="76.83" y="127.2" width="15.37" height="10.9" fill="#2a10f2"/><rect x="92.2" y="127.2" width="46.1" height="10.9" fill="#64fa1e"/><rect x="138.3" y="127.2" width="46.1" height="10.9" fill="#f5fa3c"/></g>
<use href="#grid"/><use href="#map"/><use href="#frame"/><use href="#labs"/>
</g>
<text class="s" x="214.7" y="537" textLength="111.8" lengthAdjust="spacingAndGlyphs">(k) Prediction from early Aug.</text>
<g transform="translate(415.5 539.4)">
<g shape-rendering="crispEdges"><rect x="46.1" y="72.68" width="15.37" height="18.17" fill="#f6c5c9"/><rect x="138.3" y="72.68" width="30.73" height="18.17" fill="#f6c5c9"/><rect x="30.73" y="90.86" width="30.73" height="18.17" fill="#f6c5c9"/><rect x="76.83" y="90.86" width="15.37" height="18.17" fill="#f6c5c9"/><rect x="153.67" y="90.86" width="30.73" height="18.17" fill="#f6c5c9"/><rect x="0" y="109.03" width="30.73" height="18.17" fill="#f6c5c9"/><rect x="30.73" y="109.03" width="30.73" height="18.17" fill="#ee9aa3"/><rect x="61.47" y="109.03" width="61.47" height="18.17" fill="#f6c5c9"/><rect x="169.03" y="109.03" width="15.37" height="18.17" fill="#f6c5c9"/><rect x="0" y="127.2" width="46.1" height="10.9" fill="#f6c5c9"/><rect x="61.47" y="127.2" width="15.37" height="10.9" fill="#f6c5c9"/><rect x="92.2" y="127.2" width="15.37" height="10.9" fill="#f6c5c9"/><rect x="153.67" y="127.2" width="30.73" height="10.9" fill="#f6c5c9"/></g>
<use href="#grid"/><use href="#map"/><use href="#frame"/><use href="#labs"/>
</g>
<text class="s" x="417.7" y="536.8" textLength="53.3" lengthAdjust="spacingAndGlyphs">(l) (k) minus (j)</text>
<text class="t" x="3" y="9.2" textLength="134.2" lengthAdjust="spacingAndGlyphs">Averaged TC frequency in JJA</text>
<text class="t" x="3.3" y="178.7" textLength="189.1" lengthAdjust="spacingAndGlyphs">Standard deviation of TC frequency in JJA</text>
<text class="t" x="7.4" y="355.6" textLength="139.7" lengthAdjust="spacingAndGlyphs">Averaged TC frequency in SON</text>
<text class="t" x="4.5" y="527.3" textLength="194.4" lengthAdjust="spacingAndGlyphs">Standard deviation of TC frequency in SON</text>
<path d="M139.5 5.2L164 3L164 7.4Z" fill="#fff" stroke="#222" stroke-width="0.4"/><rect x="164" y="3" width="23.98" height="4.4" fill="#2a10f2"/><rect x="187.93" y="3" width="23.98" height="4.4" fill="#4ba5be"/><rect x="211.86" y="3" width="23.98" height="4.4" fill="#64fa1e"/><rect x="235.79" y="3" width="23.98" height="4.4" fill="#f5fa3c"/><rect x="259.72" y="3" width="23.98" height="4.4" fill="#f08728"/><rect x="283.65" y="3" width="23.98" height="4.4" fill="#ff280f"/><path d="M307.58 3L331.51 5.2L307.58 7.4Z" fill="#b41e14"/><text class="c" x="164" y="13" text-anchor="middle">1</text><text class="c" x="187.93" y="13" text-anchor="middle">3</text><text class="c" x="211.86" y="13" text-anchor="middle">5</text><text class="c" x="235.79" y="13" text-anchor="middle">7</text><text class="c" x="259.72" y="13" text-anchor="middle">9</text><text class="c" x="283.65" y="13" text-anchor="middle">11</text><text class="c" x="307.58" y="13" text-anchor="middle">13</text>
<path d="M199 175.6L223 173.8L223 177.4Z" fill="#fff" stroke="#222" stroke-width="0.4"/><rect x="223" y="173.8" width="23.95" height="3.6" fill="#2a10f2"/><rect x="246.9" y="173.8" width="23.95" height="3.6" fill="#4ba5be"/><rect x="270.8" y="173.8" width="23.95" height="3.6" fill="#64fa1e"/><rect x="294.7" y="173.8" width="23.95" height="3.6" fill="#f5fa3c"/><rect x="318.6" y="173.8" width="23.95" height="3.6" fill="#f08728"/><rect x="342.5" y="173.8" width="23.95" height="3.6" fill="#ff280f"/><path d="M366.4 173.8L390.3 175.6L366.4 177.4Z" fill="#b41e14"/><text class="c" x="223" y="182.4" text-anchor="middle">1</text><text class="c" x="246.9" y="182.4" text-anchor="middle">2</text><text class="c" x="270.8" y="182.4" text-anchor="middle">3</text><text class="c" x="294.7" y="182.4" text-anchor="middle">4</text><text class="c" x="318.6" y="182.4" text-anchor="middle">5</text><text class="c" x="342.5" y="182.4" text-anchor="middle">6</text><text class="c" x="366.4" y="182.4" text-anchor="middle">7</text>
<path d="M152.7 351.45L176.8 349.4L176.8 353.5Z" fill="#fff" stroke="#222" stroke-width="0.4"/><rect x="176.8" y="349.4" width="24.05" height="4.1" fill="#2a10f2"/><rect x="200.8" y="349.4" width="24.05" height="4.1" fill="#4ba5be"/><rect x="224.8" y="349.4" width="24.05" height="4.1" fill="#64fa1e"/><rect x="248.8" y="349.4" width="24.05" height="4.1" fill="#f5fa3c"/><rect x="272.8" y="349.4" width="24.05" height="4.1" fill="#f08728"/><rect x="296.8" y="349.4" width="24.05" height="4.1" fill="#ff280f"/><path d="M320.8 349.4L344.8 351.45L320.8 353.5Z" fill="#b41e14"/><text class="c" x="176.8" y="359.2" text-anchor="middle">1</text><text class="c" x="200.8" y="359.2" text-anchor="middle">3</text><text class="c" x="224.8" y="359.2" text-anchor="middle">5</text><text class="c" x="248.8" y="359.2" text-anchor="middle">7</text><text class="c" x="272.8" y="359.2" text-anchor="middle">9</text><text class="c" x="296.8" y="359.2" text-anchor="middle">11</text><text class="c" x="320.8" y="359.2" text-anchor="middle">13</text>
<path d="M202.2 522.55L226 520.8L226 524.3Z" fill="#fff" stroke="#222" stroke-width="0.4"/><rect x="226" y="520.8" width="24" height="3.5" fill="#2a10f2"/><rect x="249.95" y="520.8" width="24" height="3.5" fill="#4ba5be"/><rect x="273.9" y="520.8" width="24" height="3.5" fill="#64fa1e"/><rect x="297.85" y="520.8" width="24" height="3.5" fill="#f5fa3c"/><rect x="321.8" y="520.8" width="24" height="3.5" fill="#f08728"/><rect x="345.75" y="520.8" width="24" height="3.5" fill="#ff280f"/><path d="M369.7 520.8L393.65 522.55L369.7 524.3Z" fill="#b41e14"/><text class="c" x="226" y="529.2" text-anchor="middle">1</text><text class="c" x="249.95" y="529.2" text-anchor="middle">2</text><text class="c" x="273.9" y="529.2" text-anchor="middle">3</text><text class="c" x="297.85" y="529.2" text-anchor="middle">4</text><text class="c" x="321.8" y="529.2" text-anchor="middle">5</text><text class="c" x="345.75" y="529.2" text-anchor="middle">6</text><text class="c" x="369.7" y="529.2" text-anchor="middle">7</text>
<path d="M414.1 6.65L434.75 4.2L434.75 9.1Z" fill="#2a14e6"/><rect x="434.75" y="4.2" width="20.77" height="4.9" fill="#5c9ee6" stroke="#333" stroke-width="0.4"/><rect x="455.52" y="4.2" width="20.77" height="4.9" fill="#a5d2f5" stroke="#333" stroke-width="0.4"/><rect x="476.29" y="4.2" width="20.77" height="4.9" fill="#e3f7fa" stroke="#333" stroke-width="0.4"/><rect x="497.06" y="4.2" width="20.77" height="4.9" fill="#ffffff" stroke="#333" stroke-width="0.4"/><rect x="517.83" y="4.2" width="20.77" height="4.9" fill="#f6c5c9" stroke="#333" stroke-width="0.4"/><rect x="538.6" y="4.2" width="20.77" height="4.9" fill="#ee9aa3" stroke="#333" stroke-width="0.4"/><rect x="559.37" y="4.2" width="20.77" height="4.9" fill="#df858d" stroke="#333" stroke-width="0.4"/><path d="M580.14 4.2L600.6 6.65L580.14 9.1Z" fill="#ad2326"/><text class="c" x="434.75" y="14.1" text-anchor="middle" style="font-size:4.6px">−8</text><text class="c" x="455.52" y="14.1" text-anchor="middle" style="font-size:4.6px">−6</text><text class="c" x="476.29" y="14.1" text-anchor="middle" style="font-size:4.6px">−4</text><text class="c" x="497.06" y="14.1" text-anchor="middle" style="font-size:4.6px">−2</text><text class="c" x="517.83" y="14.1" text-anchor="middle" style="font-size:4.6px">2</text><text class="c" x="538.6" y="14.1" text-anchor="middle" style="font-size:4.6px">4</text><text class="c" x="559.37" y="14.1" text-anchor="middle" style="font-size:4.6px">6</text><text class="c" x="580.14" y="14.1" text-anchor="middle" style="font-size:4.6px">8</text>
</svg></body></html>
